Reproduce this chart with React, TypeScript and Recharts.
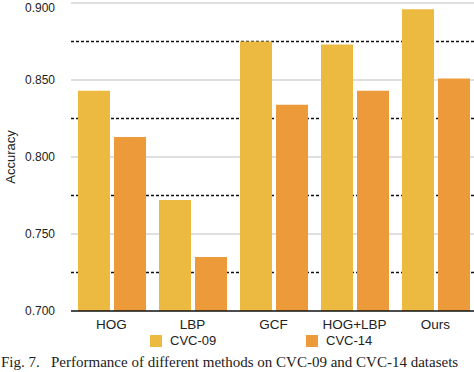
import { BarChart, Bar, XAxis, YAxis, CartesianGrid, Legend } from 'recharts';

const methods = ['HOG', 'LBP', 'GCF', 'HOG+LBP', 'Ours'];
const cvc09 = [0.843, 0.772, 0.875, 0.873, 0.896];
const cvc14 = [0.813, 0.735, 0.834, 0.843, 0.851];
const yTicks = [0.7, 0.75, 0.8, 0.85, 0.9];
const solidLines = [0.75, 0.8, 0.85, 0.9];
const dashedLines = [0.725, 0.775, 0.825, 0.875];

const YELLOW = '#ECBA41';
const ORANGE = '#EC9A3A';
const FONT = '"Liberation Sans", Arial, sans-serif';

const data = methods.map((m, i) => ({ method: m, cvc09: cvc09[i], cvc14: cvc14[i] }));

function LegendBox() {
  const items = [
    { label: 'CVC-09', color: YELLOW, width: 156 },
    { label: 'CVC-14', color: ORANGE, width: 80 },
  ];
  return (
    <div style={{ display: 'flex', paddingLeft: 150, fontFamily: FONT, fontSize: 13, color: '#222' }}>
      {items.map(it => (
        <div key={it.label} style={{ display: 'flex', alignItems: 'center', width: it.width }}>
          <span style={{ width: 12, height: 12, background: it.color, marginRight: 8 }} />
          <span>{it.label}</span>
        </div>
      ))}
    </div>
  );
}

export default function App() {
  return (
    <div style={{ position: 'absolute', left: 0, top: 0, width: 474, height: 372, overflow: 'hidden', background: '#fff' }}>
      <BarChart
        width={478}
        height={354}
        data={data}
        margin={{ top: 3, right: 2, left: 0, bottom: 3 }}
        barSize={32}
        barGap={4}
      >
        <CartesianGrid horizontal vertical={false} horizontalValues={solidLines} stroke="#d4d4d4" strokeWidth={1.5} />
        <CartesianGrid horizontal vertical={false} horizontalValues={dashedLines} stroke="#111" strokeWidth={1.3} strokeDasharray="3 2" />
        <XAxis
          dataKey="method"
          height={22}
          tickLine={false}
          axisLine={{ stroke: '#111', strokeWidth: 1.5 }}
          tick={{ fill: '#222', fontSize: 13.5, fontFamily: FONT }}
        />
        <YAxis
          width={71}
          domain={[0.7, 0.9]}
          ticks={yTicks}
          allowDataOverflow
          axisLine={false}
          tickLine={false}
          tickMargin={10}
          tickFormatter={(v: number) => v.toFixed(3)}
          tick={{ fill: '#222', fontSize: 12, fontFamily: FONT }}
          label={{ value: 'Accuracy', angle: -90, position: 'insideLeft', offset: 10, style: { textAnchor: 'middle', fill: '#222', fontSize: 13, fontFamily: FONT } }}
        />
        <Legend verticalAlign="bottom" height={18} content={() => <LegendBox />} />
        <Bar dataKey="cvc09" name="CVC-09" fill={YELLOW} isAnimationActive={false} />
        <Bar dataKey="cvc14" name="CVC-14" fill={ORANGE} isAnimationActive={false} />
      </BarChart>
      <div
        style={{
          position: 'absolute',
          left: 1,
          top: 354,
          whiteSpace: 'nowrap',
          fontFamily: '"Liberation Serif", "Times New Roman", serif',
          fontSize: 15,
          lineHeight: '17px',
          color: '#222',
        }}
      >
        Fig. 7.&nbsp;&nbsp;&nbsp;Performance of different methods on CVC-09 and CVC-14 datasets
      </div>
    </div>
  );
}
